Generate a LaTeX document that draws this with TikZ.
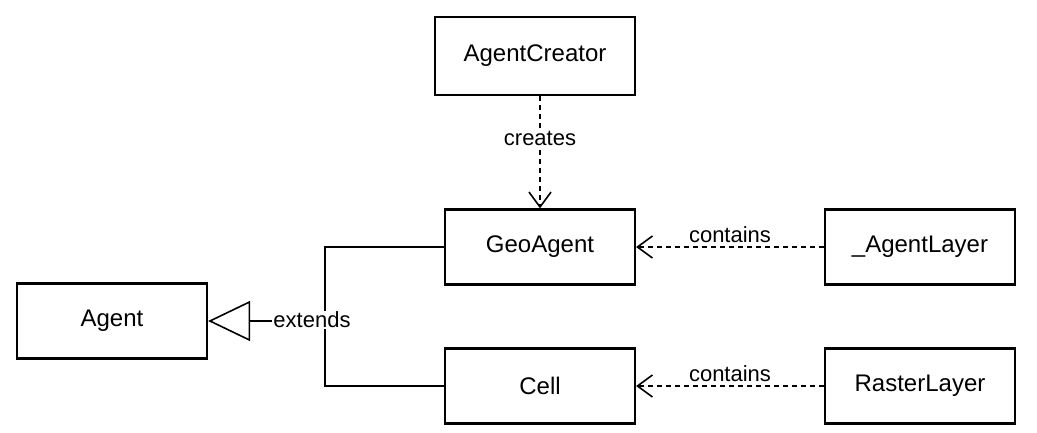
\documentclass[tikz,border=0pt]{standalone}
\usepackage{fontspec}
\setmainfont{Liberation Sans}
\usetikzlibrary{arrows.meta}
\begin{document}
\begin{tikzpicture}[x=1pt,y=-1pt,
  box/.style={draw,line width=2.2pt,minimum width=190pt,minimum height=75pt,font=\fontsize{24}{28}\selectfont},
  lbl/.style={font=\fontsize{22}{26}\selectfont,fill=white,inner sep=1pt},
  dep/.style={dashed,dash pattern=on 5pt off 4pt,line width=1.4pt,-{Straight Barb[open,length=15pt,width=22pt,line width=1.6pt]}},
  line width=1.4pt]
\useasboundingbox (0,0) rectangle (1037,432);
\node[box,minimum width=200pt,minimum height=78pt] (ac) at (535,56) {AgentCreator};
\node[box] (geo) at (540,247) {GeoAgent};
\node[box] (al) at (920,247) {\_AgentLayer};
\node[box] (ag) at (112,321) {Agent};
\node[box] (cell) at (540,386) {Cell};
\node[box] (rl) at (920,386) {RasterLayer};
\coordinate (j) at (325,321);
\draw[-{Triangle[open,length=42pt,width=40pt,line width=1.6pt]}] (j) -- (ag.east);
\draw (geo.west) -- (geo.west -| j) -- (cell.west -| j) -- (cell.west);
\node[lbl] at (312,320) {extends};
\draw[dep] (geo.north |- ac.south) -- node[lbl,pos=0.38]{creates} (geo.north);
\draw[dep] (al.west) -- node[font=\fontsize{22}{26}\selectfont,above,inner sep=4pt]{contains} (geo.east);
\draw[dep] (rl.west) -- node[font=\fontsize{22}{26}\selectfont,above,inner sep=4pt]{contains} (cell.east);
\end{tikzpicture}
\end{document}
